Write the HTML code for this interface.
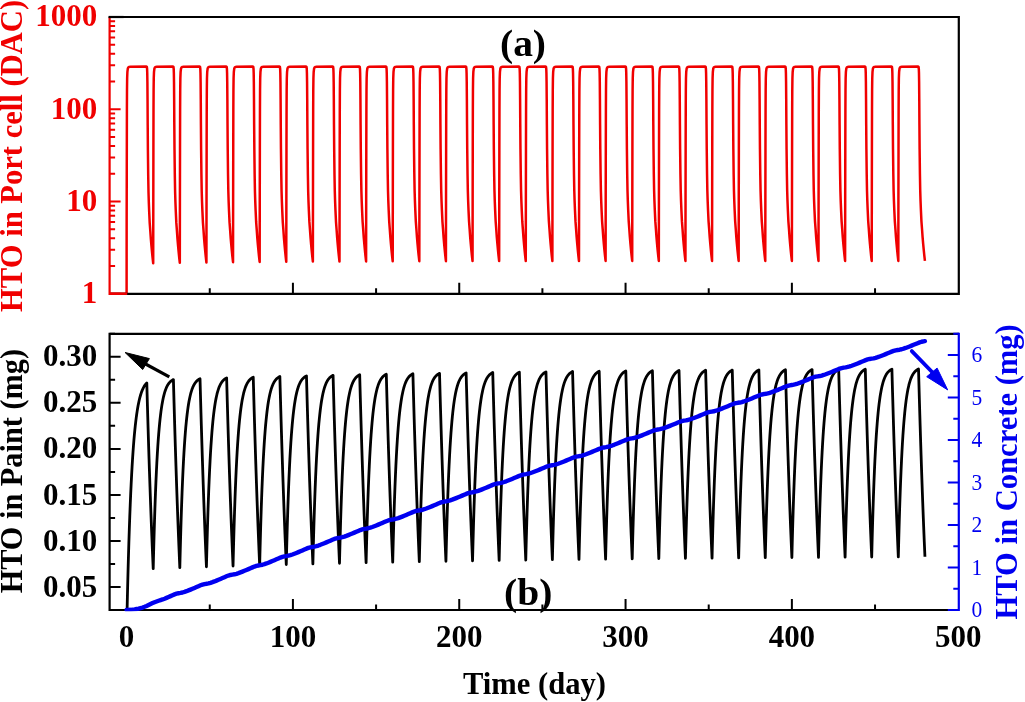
<!DOCTYPE html>
<html><head><meta charset="utf-8"><title>HTO plot</title><style>html,body{margin:0;padding:0;background:#fff;}svg{display:block}text{font-family:"Liberation Serif","Times New Roman",serif;}</style></head><body>
<svg width="1025" height="702" viewBox="0 0 1025 702">
<rect width="1025" height="702" fill="#fff"/>
<defs><clipPath id="ca"><rect x="109.6" y="17.0" width="849.1999999999999" height="276.8"/></clipPath><clipPath id="cb"><rect x="109.6" y="333.8" width="849.1999999999999" height="276.2"/></clipPath><clipPath id="cb2"><rect x="109.6" y="333.8" width="849.1999999999999" height="277.4"/></clipPath></defs>
<path d="M109.6,293.8 L126.3,293.8 L126.6,293.8 L126.65,220 L126.9,110 L127,90 L127.15,78 L127.4,71.8 L127.8,68.6 L128.4,67.3 L129.2,66.9 L130.1,66.8 L146.3,66.5 L146.85,67 L147.1,69 L147.25,73 L147.4,82 L147.55,100 L147.7,125 L147.9,150 L148.2,175 L148.5,192 L148.8,202 L149.2,212 L149.7,223 L150.3,231 L150.85,239 L151.45,246 L152,252 L152.6,258 L153.2,263.3 L153.21,263.3 L153.31,200 L153.41,150 L153.51,110 L153.61,90 L153.76,78 L154.01,71.8 L154.41,68.6 L155.01,67.3 L155.81,66.9 L156.71,66.8 L172.91,66.5 L173.46,67 L173.71,68.99 L173.86,72.99 L174.01,81.97 L174.16,99.93 L174.31,124.87 L174.51,149.82 L174.81,174.76 L175.11,191.72 L175.41,201.7 L175.81,211.68 L176.31,222.65 L176.91,230.64 L177.46,238.62 L178.06,245.6 L178.61,251.59 L179.21,257.58 L179.81,262.86 L179.82,262.86 L179.92,200 L180.02,150 L180.12,110 L180.22,90 L180.37,78 L180.62,71.8 L181.02,68.6 L181.62,67.3 L182.42,66.9 L183.32,66.8 L199.52,66.5 L200.07,67 L200.32,68.99 L200.47,72.97 L200.62,81.94 L200.77,99.87 L200.92,124.76 L201.12,149.66 L201.42,174.56 L201.72,191.5 L202.02,201.46 L202.42,211.42 L202.92,222.37 L203.52,230.34 L204.07,238.31 L204.67,245.28 L205.22,251.25 L205.82,257.23 L206.42,262.51 L206.43,262.51 L206.53,200 L206.63,150 L206.73,110 L206.83,90 L206.98,78 L207.23,71.8 L207.63,68.6 L208.23,67.3 L209.03,66.9 L209.93,66.8 L226.13,66.5 L226.68,67 L226.93,68.99 L227.08,72.96 L227.23,81.91 L227.38,99.82 L227.53,124.68 L227.73,149.54 L228.03,174.4 L228.33,191.31 L228.63,201.25 L229.03,211.2 L229.53,222.14 L230.13,230.09 L230.68,238.05 L231.28,245.01 L231.83,250.98 L232.43,256.95 L233.03,262.22 L233.04,262.22 L233.14,200 L233.24,150 L233.34,110 L233.44,90 L233.59,78 L233.84,71.8 L234.24,68.6 L234.84,67.3 L235.64,66.9 L236.54,66.8 L252.74,66.5 L253.29,67 L253.54,68.98 L253.69,72.96 L253.84,81.9 L253.99,99.78 L254.14,124.61 L254.34,149.44 L254.64,174.27 L254.94,191.16 L255.24,201.09 L255.64,211.02 L256.14,221.95 L256.74,229.9 L257.29,237.84 L257.89,244.79 L258.44,250.75 L259.04,256.71 L259.64,261.98 L259.66,261.98 L259.76,200 L259.86,150 L259.96,110 L260.06,90 L260.21,78 L260.46,71.8 L260.86,68.6 L261.46,67.3 L262.26,66.9 L263.16,66.8 L279.36,66.5 L279.91,67 L280.16,68.98 L280.31,72.95 L280.46,81.88 L280.61,99.74 L280.76,124.55 L280.96,149.36 L281.26,174.16 L281.56,191.03 L281.86,200.96 L282.26,210.88 L282.76,221.79 L283.36,229.73 L283.91,237.67 L284.51,244.62 L285.06,250.57 L285.66,256.52 L286.26,261.78 L286.27,261.78 L286.37,200 L286.47,150 L286.57,110 L286.67,90 L286.82,78 L287.07,71.8 L287.47,68.6 L288.07,67.3 L288.87,66.9 L289.77,66.8 L305.97,66.5 L306.52,67 L306.77,68.98 L306.92,72.94 L307.07,81.87 L307.22,99.71 L307.37,124.5 L307.57,149.29 L307.87,174.08 L308.17,190.93 L308.47,200.85 L308.87,210.76 L309.37,221.67 L309.97,229.6 L310.52,237.53 L311.12,244.47 L311.67,250.42 L312.27,256.37 L312.87,261.62 L312.88,261.62 L312.98,200 L313.08,150 L313.18,110 L313.28,90 L313.43,78 L313.68,71.8 L314.08,68.6 L314.68,67.3 L315.48,66.9 L316.38,66.8 L332.58,66.5 L333.13,67 L333.38,68.98 L333.53,72.94 L333.68,81.86 L333.83,99.69 L333.98,124.46 L334.18,149.23 L334.48,174 L334.78,190.85 L335.08,200.76 L335.48,210.66 L335.98,221.56 L336.58,229.49 L337.13,237.42 L337.73,244.35 L338.28,250.3 L338.88,256.24 L339.48,261.49 L339.49,261.49 L339.59,200 L339.69,150 L339.79,110 L339.89,90 L340.04,78 L340.29,71.8 L340.69,68.6 L341.29,67.3 L342.09,66.9 L342.99,66.8 L359.19,66.5 L359.74,67 L359.99,68.98 L360.14,72.94 L360.29,81.85 L360.44,99.67 L360.59,124.43 L360.79,149.19 L361.09,173.94 L361.39,190.78 L361.69,200.68 L362.09,210.58 L362.59,221.48 L363.19,229.4 L363.74,237.32 L364.34,244.25 L364.89,250.19 L365.49,256.14 L366.09,261.38 L366.1,261.38 L366.2,200 L366.3,150 L366.4,110 L366.5,90 L366.65,78 L366.9,71.8 L367.3,68.6 L367.9,67.3 L368.7,66.9 L369.6,66.8 L385.8,66.5 L386.35,66.99 L386.6,68.97 L386.75,72.93 L386.9,81.84 L387.05,99.66 L387.2,124.4 L387.4,149.15 L387.7,173.9 L388,190.72 L388.3,200.62 L388.7,210.52 L389.2,221.41 L389.8,229.33 L390.35,237.24 L390.95,244.17 L391.5,250.11 L392.1,256.05 L392.7,261.3 L392.71,261.3 L392.81,200 L392.91,150 L393.01,110 L393.11,90 L393.26,78 L393.51,71.8 L393.91,68.6 L394.51,67.3 L395.31,66.9 L396.21,66.8 L412.41,66.5 L412.96,66.99 L413.21,68.97 L413.36,72.93 L413.51,81.84 L413.66,99.65 L413.81,124.38 L414.01,149.12 L414.31,173.86 L414.61,190.68 L414.91,200.57 L415.31,210.47 L415.81,221.35 L416.41,229.27 L416.96,237.18 L417.56,244.11 L418.11,250.04 L418.71,255.98 L419.31,261.22 L419.32,261.22 L419.42,200 L419.52,150 L419.62,110 L419.72,90 L419.87,78 L420.12,71.8 L420.52,68.6 L421.12,67.3 L421.92,66.9 L422.82,66.8 L439.02,66.5 L439.57,66.99 L439.82,68.97 L439.97,72.93 L440.12,81.83 L440.27,99.64 L440.42,124.37 L440.62,149.09 L440.92,173.82 L441.22,190.64 L441.52,200.53 L441.92,210.42 L442.42,221.3 L443.02,229.22 L443.57,237.13 L444.17,244.05 L444.72,249.99 L445.32,255.92 L445.92,261.17 L445.93,261.17 L446.03,200 L446.13,150 L446.23,110 L446.33,90 L446.48,78 L446.73,71.8 L447.13,68.6 L447.73,67.3 L448.53,66.9 L449.43,66.8 L465.63,66.5 L466.18,66.99 L466.43,68.97 L466.58,72.93 L466.73,81.83 L466.88,99.63 L467.03,124.35 L467.23,149.07 L467.53,173.8 L467.83,190.61 L468.13,200.5 L468.53,210.39 L469.03,221.26 L469.63,229.18 L470.18,237.09 L470.78,244.01 L471.33,249.94 L471.93,255.88 L472.53,261.12 L472.55,261.12 L472.65,200 L472.75,150 L472.85,110 L472.95,90 L473.1,78 L473.35,71.8 L473.75,68.6 L474.35,67.3 L475.15,66.9 L476.05,66.8 L492.25,66.5 L492.8,66.99 L493.05,68.97 L493.2,72.93 L493.35,81.83 L493.5,99.62 L493.65,124.34 L493.85,149.06 L494.15,173.78 L494.45,190.58 L494.75,200.47 L495.15,210.36 L495.65,221.23 L496.25,229.14 L496.8,237.05 L497.4,243.97 L497.95,249.91 L498.55,255.84 L499.15,261.08 L499.16,261.08 L499.26,200 L499.36,150 L499.46,110 L499.56,90 L499.71,78 L499.96,71.8 L500.36,68.6 L500.96,67.3 L501.76,66.9 L502.66,66.8 L518.86,66.5 L519.41,66.99 L519.66,68.97 L519.81,72.93 L519.96,81.82 L520.11,99.62 L520.26,124.33 L520.46,149.04 L520.76,173.76 L521.06,190.56 L521.36,200.45 L521.76,210.33 L522.26,221.21 L522.86,229.12 L523.41,237.02 L524.01,243.94 L524.56,249.88 L525.16,255.81 L525.76,261.05 L525.77,261.05 L525.87,200 L525.97,150 L526.07,110 L526.17,90 L526.32,78 L526.57,71.8 L526.97,68.6 L527.57,67.3 L528.37,66.9 L529.27,66.8 L545.47,66.5 L546.02,66.99 L546.27,68.97 L546.42,72.92 L546.57,81.82 L546.72,99.61 L546.87,124.32 L547.07,149.03 L547.37,173.74 L547.67,190.55 L547.97,200.43 L548.37,210.31 L548.87,221.19 L549.47,229.09 L550.02,237 L550.62,243.92 L551.17,249.85 L551.77,255.78 L552.37,261.02 L552.38,261.02 L552.48,200 L552.58,150 L552.68,110 L552.78,90 L552.93,78 L553.18,71.8 L553.58,68.6 L554.18,67.3 L554.98,66.9 L555.88,66.8 L572.08,66.5 L572.63,66.99 L572.88,68.97 L573.03,72.92 L573.18,81.82 L573.33,99.61 L573.48,124.32 L573.68,149.02 L573.98,173.73 L574.28,190.53 L574.58,200.41 L574.98,210.3 L575.48,221.17 L576.08,229.08 L576.63,236.98 L577.23,243.9 L577.78,249.83 L578.38,255.76 L578.98,261 L578.99,261 L579.09,200 L579.19,150 L579.29,110 L579.39,90 L579.54,78 L579.79,71.8 L580.19,68.6 L580.79,67.3 L581.59,66.9 L582.49,66.8 L598.69,66.5 L599.24,66.99 L599.49,68.97 L599.64,72.92 L599.79,81.82 L599.94,99.61 L600.09,124.31 L600.29,149.02 L600.59,173.72 L600.89,190.52 L601.19,200.4 L601.59,210.28 L602.09,221.16 L602.69,229.06 L603.24,236.97 L603.84,243.88 L604.39,249.81 L604.99,255.74 L605.59,260.98 L605.6,260.98 L605.7,200 L605.8,150 L605.9,110 L606,90 L606.15,78 L606.4,71.8 L606.8,68.6 L607.4,67.3 L608.2,66.9 L609.1,66.8 L625.3,66.5 L625.85,66.99 L626.1,68.97 L626.25,72.92 L626.4,81.82 L626.55,99.6 L626.7,124.31 L626.9,149.01 L627.2,173.71 L627.5,190.51 L627.8,200.39 L628.2,210.27 L628.7,221.14 L629.3,229.05 L629.85,236.95 L630.45,243.87 L631,249.8 L631.6,255.73 L632.2,260.97 L632.21,260.97 L632.31,200 L632.41,150 L632.51,110 L632.61,90 L632.76,78 L633.01,71.8 L633.41,68.6 L634.01,67.3 L634.81,66.9 L635.71,66.8 L651.91,66.5 L652.46,66.99 L652.71,68.97 L652.86,72.92 L653.01,81.82 L653.16,99.6 L653.31,124.3 L653.51,149 L653.81,173.71 L654.11,190.5 L654.41,200.38 L654.81,210.27 L655.31,221.13 L655.91,229.04 L656.46,236.94 L657.06,243.86 L657.61,249.79 L658.21,255.72 L658.81,260.95 L658.82,260.95 L658.92,200 L659.02,150 L659.12,110 L659.22,90 L659.37,78 L659.62,71.8 L660.02,68.6 L660.62,67.3 L661.42,66.9 L662.32,66.8 L678.52,66.5 L679.07,66.99 L679.32,68.97 L679.47,72.92 L679.62,81.81 L679.77,99.6 L679.92,124.3 L680.12,149 L680.42,173.7 L680.72,190.5 L681.02,200.38 L681.42,210.26 L681.92,221.13 L682.52,229.03 L683.07,236.93 L683.67,243.85 L684.22,249.78 L684.82,255.71 L685.42,260.94 L685.44,260.94 L685.54,200 L685.64,150 L685.74,110 L685.84,90 L685.99,78 L686.24,71.8 L686.64,68.6 L687.24,67.3 L688.04,66.9 L688.94,66.8 L705.14,66.5 L705.69,66.99 L705.94,68.97 L706.09,72.92 L706.24,81.81 L706.39,99.6 L706.54,124.3 L706.74,149 L707.04,173.7 L707.34,190.49 L707.64,200.37 L708.04,210.25 L708.54,221.12 L709.14,229.02 L709.69,236.93 L710.29,243.84 L710.84,249.77 L711.44,255.7 L712.04,260.94 L712.05,260.94 L712.15,200 L712.25,150 L712.35,110 L712.45,90 L712.6,78 L712.85,71.8 L713.25,68.6 L713.85,67.3 L714.65,66.9 L715.55,66.8 L731.75,66.5 L732.3,66.99 L732.55,68.97 L732.7,72.92 L732.85,81.81 L733,99.6 L733.15,124.3 L733.35,148.99 L733.65,173.69 L733.95,190.49 L734.25,200.37 L734.65,210.25 L735.15,221.11 L735.75,229.02 L736.3,236.92 L736.9,243.84 L737.45,249.77 L738.05,255.69 L738.65,260.93 L738.66,260.93 L738.76,200 L738.86,150 L738.96,110 L739.06,90 L739.21,78 L739.46,71.8 L739.86,68.6 L740.46,67.3 L741.26,66.9 L742.16,66.8 L758.36,66.5 L758.91,66.99 L759.16,68.97 L759.31,72.92 L759.46,81.81 L759.61,99.6 L759.76,124.29 L759.96,148.99 L760.26,173.69 L760.56,190.48 L760.86,200.36 L761.26,210.24 L761.76,221.11 L762.36,229.01 L762.91,236.92 L763.51,243.83 L764.06,249.76 L764.66,255.69 L765.26,260.92 L765.27,260.92 L765.37,200 L765.47,150 L765.57,110 L765.67,90 L765.82,78 L766.07,71.8 L766.47,68.6 L767.07,67.3 L767.87,66.9 L768.77,66.8 L784.97,66.5 L785.52,66.99 L785.77,68.97 L785.92,72.92 L786.07,81.81 L786.22,99.59 L786.37,124.29 L786.57,148.99 L786.87,173.69 L787.17,190.48 L787.47,200.36 L787.87,210.24 L788.37,221.11 L788.97,229.01 L789.52,236.91 L790.12,243.83 L790.67,249.76 L791.27,255.68 L791.87,260.92 L791.88,260.92 L791.98,200 L792.08,150 L792.18,110 L792.28,90 L792.43,78 L792.68,71.8 L793.08,68.6 L793.68,67.3 L794.48,66.9 L795.38,66.8 L811.58,66.5 L812.13,66.99 L812.38,68.97 L812.53,72.92 L812.68,81.81 L812.83,99.59 L812.98,124.29 L813.18,148.99 L813.48,173.69 L813.78,190.48 L814.08,200.36 L814.48,210.24 L814.98,221.1 L815.58,229.01 L816.13,236.91 L816.73,243.83 L817.28,249.75 L817.88,255.68 L818.48,260.92 L818.49,260.92 L818.59,200 L818.69,150 L818.79,110 L818.89,90 L819.04,78 L819.29,71.8 L819.69,68.6 L820.29,67.3 L821.09,66.9 L821.99,66.8 L838.19,66.5 L838.74,66.99 L838.99,68.97 L839.14,72.92 L839.29,81.81 L839.44,99.59 L839.59,124.29 L839.79,148.99 L840.09,173.68 L840.39,190.48 L840.69,200.36 L841.09,210.24 L841.59,221.1 L842.19,229 L842.74,236.91 L843.34,243.82 L843.89,249.75 L844.49,255.68 L845.09,260.91 L845.1,260.91 L845.2,200 L845.3,150 L845.4,110 L845.5,90 L845.65,78 L845.9,71.8 L846.3,68.6 L846.9,67.3 L847.7,66.9 L848.6,66.8 L864.8,66.5 L865.35,66.99 L865.6,68.97 L865.75,72.92 L865.9,81.81 L866.05,99.59 L866.2,124.29 L866.4,148.99 L866.7,173.68 L867,190.48 L867.3,200.36 L867.7,210.23 L868.2,221.1 L868.8,229 L869.35,236.91 L869.95,243.82 L870.5,249.75 L871.1,255.68 L871.7,260.91 L871.71,260.91 L871.81,200 L871.91,150 L872.01,110 L872.11,90 L872.26,78 L872.51,71.8 L872.91,68.6 L873.51,67.3 L874.31,66.9 L875.21,66.8 L891.41,66.5 L891.96,66.99 L892.21,68.97 L892.36,72.92 L892.51,81.81 L892.66,99.59 L892.81,124.29 L893.01,148.99 L893.31,173.68 L893.61,190.48 L893.91,200.35 L894.31,210.23 L894.81,221.1 L895.41,229 L895.96,236.9 L896.56,243.82 L897.11,249.75 L897.71,255.67 L898.31,260.91 L898.32,260.91 L898.42,200 L898.52,150 L898.62,110 L898.72,90 L898.87,78 L899.12,71.8 L899.52,68.6 L900.12,67.3 L900.92,66.9 L901.82,66.8 L918.02,66.5 L918.57,66.99 L918.82,68.97 L918.97,72.92 L919.12,81.81 L919.27,99.59 L919.42,124.29 L919.62,148.98 L919.92,173.68 L920.22,190.47 L920.52,200.35 L920.92,210.23 L921.42,221.1 L922.02,229 L922.57,236.9 L923.17,243.82 L923.72,249.74 L924.32,255.67 L924.92,260.91" fill="none" stroke="#f00000" stroke-width="2.5" stroke-linejoin="round" clip-path="url(#ca)"/>
<path d="M126.6,633.02 L126.85,621.03 L127.1,609.61 L127.35,598.72 L127.6,588.34 L127.85,578.45 L128.1,569.03 L128.35,560.04 L128.6,551.48 L128.85,543.32 L129.31,529.29 L129.77,516.44 L130.23,504.69 L130.69,493.93 L131.15,484.08 L131.61,475.06 L132.07,466.81 L132.53,459.26 L132.99,452.35 L133.45,446.02 L133.91,440.23 L134.37,434.93 L134.83,430.07 L135.29,425.63 L135.75,421.57 L136.21,417.85 L136.67,414.44 L137.13,411.33 L137.59,408.47 L138.06,405.86 L138.52,403.47 L138.98,401.29 L139.44,399.28 L139.9,397.45 L140.36,395.77 L140.82,394.24 L141.28,392.83 L141.74,391.55 L142.2,390.37 L142.66,389.29 L143.12,388.31 L143.58,387.4 L144.04,386.58 L144.5,385.82 L144.96,385.13 L145.42,384.5 L145.88,383.92 L146.34,383.39 L146.8,382.9 L147.12,394.55 L147.44,405.92 L147.76,417 L148.08,427.81 L148.4,438.36 L148.72,448.64 L149.04,458.67 L149.36,468.45 L149.69,477.99 L150.01,487.3 L150.33,496.37 L150.65,505.22 L150.97,513.85 L151.29,522.27 L151.61,530.49 L151.93,538.49 L152.25,546.31 L152.57,553.92 L152.89,561.35 L153.21,568.6 L153.21,568.6 L153.46,558.27 L153.71,548.5 L153.96,539.26 L154.21,530.51 L154.46,522.24 L154.71,514.42 L154.96,507.01 L155.21,500.01 L155.46,493.39 L155.92,482.12 L156.38,471.94 L156.84,462.76 L157.3,454.46 L157.76,446.98 L158.22,440.22 L158.68,434.11 L159.14,428.61 L159.6,423.63 L160.06,419.14 L160.52,415.09 L160.98,411.43 L161.44,408.13 L161.9,405.14 L162.37,402.45 L162.83,400.02 L163.29,397.83 L163.75,395.85 L164.21,394.06 L164.67,392.44 L165.13,390.99 L165.59,389.67 L166.05,388.48 L166.51,387.41 L166.97,386.44 L167.43,385.57 L167.89,384.78 L168.35,384.07 L168.81,383.42 L169.27,382.84 L169.73,382.32 L170.19,381.85 L170.65,381.42 L171.11,381.03 L171.57,380.69 L172.03,380.37 L172.49,380.09 L172.95,379.83 L173.41,379.6 L173.73,391.4 L174.05,402.91 L174.37,414.14 L174.69,425.09 L175.01,435.76 L175.33,446.18 L175.66,456.34 L175.98,466.24 L176.3,475.9 L176.62,485.33 L176.94,494.52 L177.26,503.48 L177.58,512.23 L177.9,520.75 L178.22,529.07 L178.54,537.18 L178.86,545.09 L179.18,552.81 L179.5,560.33 L179.82,567.67 L179.82,567.67 L180.07,557.34 L180.32,547.58 L180.57,538.34 L180.82,529.6 L181.07,521.33 L181.32,513.51 L181.57,506.11 L181.82,499.11 L182.07,492.49 L182.53,481.23 L182.99,471.06 L183.45,461.88 L183.91,453.59 L184.37,446.1 L184.83,439.35 L185.29,433.25 L185.75,427.74 L186.21,422.77 L186.67,418.28 L187.14,414.23 L187.6,410.57 L188.06,407.27 L188.52,404.29 L188.98,401.6 L189.44,399.17 L189.9,396.98 L190.36,395 L190.82,393.21 L191.28,391.6 L191.74,390.14 L192.2,388.82 L192.66,387.64 L193.12,386.57 L193.58,385.6 L194.04,384.72 L194.5,383.94 L194.96,383.22 L195.42,382.58 L195.88,382 L196.34,381.48 L196.8,381 L197.26,380.58 L197.72,380.19 L198.18,379.84 L198.64,379.53 L199.1,379.25 L199.56,378.99 L200.02,378.76 L200.34,390.56 L200.66,402.07 L200.98,413.29 L201.3,424.24 L201.63,434.92 L201.95,445.33 L202.27,455.48 L202.59,465.39 L202.91,475.05 L203.23,484.47 L203.55,493.66 L203.87,502.63 L204.19,511.37 L204.51,519.89 L204.83,528.21 L205.15,536.32 L205.47,544.23 L205.79,551.94 L206.11,559.46 L206.43,566.8 L206.43,566.8 L206.68,556.48 L206.93,546.72 L207.18,537.49 L207.43,528.75 L207.68,520.49 L207.93,512.67 L208.18,505.27 L208.43,498.28 L208.68,491.66 L209.14,480.4 L209.6,470.23 L210.06,461.06 L210.52,452.77 L210.98,445.29 L211.45,438.54 L211.91,432.44 L212.37,426.94 L212.83,421.97 L213.29,417.48 L213.75,413.43 L214.21,409.78 L214.67,406.48 L215.13,403.5 L215.59,400.81 L216.05,398.38 L216.51,396.19 L216.97,394.21 L217.43,392.42 L217.89,390.81 L218.35,389.35 L218.81,388.04 L219.27,386.85 L219.73,385.78 L220.19,384.81 L220.65,383.94 L221.11,383.15 L221.57,382.44 L222.03,381.8 L222.49,381.22 L222.95,380.69 L223.41,380.22 L223.87,379.79 L224.33,379.41 L224.79,379.06 L225.25,378.75 L225.71,378.46 L226.17,378.21 L226.63,377.98 L226.95,389.77 L227.27,401.28 L227.6,412.5 L227.92,423.45 L228.24,434.13 L228.56,444.54 L228.88,454.69 L229.2,464.6 L229.52,474.26 L229.84,483.68 L230.16,492.86 L230.48,501.83 L230.8,510.57 L231.12,519.09 L231.44,527.41 L231.76,535.51 L232.08,543.42 L232.4,551.14 L232.72,558.66 L233.04,566 L233.04,566 L233.29,555.68 L233.54,545.92 L233.79,536.69 L234.04,527.96 L234.29,519.7 L234.54,511.88 L234.79,504.49 L235.04,497.5 L235.29,490.89 L235.76,479.63 L236.22,469.47 L236.68,460.29 L237.14,452.01 L237.6,444.53 L238.06,437.78 L238.52,431.69 L238.98,426.19 L239.44,421.22 L239.9,416.74 L240.36,412.69 L240.82,409.03 L241.28,405.74 L241.74,402.76 L242.2,400.07 L242.66,397.64 L243.12,395.45 L243.58,393.47 L244.04,391.69 L244.5,390.07 L244.96,388.62 L245.42,387.3 L245.88,386.12 L246.34,385.05 L246.8,384.08 L247.26,383.21 L247.72,382.42 L248.18,381.71 L248.64,381.07 L249.1,380.49 L249.56,379.96 L250.02,379.49 L250.48,379.06 L250.94,378.68 L251.4,378.33 L251.86,378.02 L252.32,377.73 L252.78,377.48 L253.24,377.25 L253.57,389.04 L253.89,400.55 L254.21,411.77 L254.53,422.72 L254.85,433.39 L255.17,443.8 L255.49,453.95 L255.81,463.86 L256.13,473.51 L256.45,482.93 L256.77,492.12 L257.09,501.08 L257.41,509.82 L257.73,518.35 L258.05,526.66 L258.37,534.77 L258.69,542.67 L259.01,550.39 L259.34,557.91 L259.66,565.24 L259.66,565.24 L259.91,554.93 L260.16,545.18 L260.41,535.95 L260.66,527.22 L260.91,518.96 L261.16,511.15 L261.41,503.76 L261.66,496.77 L261.91,490.16 L262.37,478.91 L262.83,468.75 L263.29,459.58 L263.75,451.3 L264.21,443.83 L264.67,437.08 L265.13,430.99 L265.59,425.49 L266.05,420.52 L266.51,416.04 L266.97,412 L267.43,408.34 L267.89,405.05 L268.35,402.07 L268.81,399.38 L269.27,396.95 L269.73,394.76 L270.19,392.79 L270.65,391 L271.11,389.39 L271.57,387.94 L272.03,386.62 L272.49,385.44 L272.95,384.37 L273.41,383.4 L273.87,382.53 L274.33,381.74 L274.79,381.03 L275.25,380.39 L275.71,379.81 L276.17,379.28 L276.63,378.81 L277.09,378.38 L277.55,378 L278.01,377.65 L278.48,377.34 L278.94,377.05 L279.4,376.8 L279.86,376.57 L280.18,388.36 L280.5,399.87 L280.82,411.09 L281.14,422.03 L281.46,432.7 L281.78,443.11 L282.1,453.27 L282.42,463.17 L282.74,472.83 L283.06,482.24 L283.38,491.43 L283.7,500.39 L284.02,509.13 L284.34,517.65 L284.66,525.96 L284.98,534.07 L285.31,541.98 L285.63,549.69 L285.95,557.21 L286.27,564.55 L286.27,564.55 L286.52,554.24 L286.77,544.49 L287.02,535.26 L287.27,526.54 L287.52,518.28 L287.77,510.47 L288.02,503.09 L288.27,496.1 L288.52,489.49 L288.98,478.24 L289.44,468.09 L289.9,458.92 L290.36,450.64 L290.82,443.17 L291.28,436.43 L291.74,430.34 L292.2,424.84 L292.66,419.88 L293.12,415.4 L293.58,411.35 L294.04,407.7 L294.5,404.4 L294.96,401.43 L295.42,398.74 L295.88,396.32 L296.34,394.13 L296.8,392.15 L297.26,390.36 L297.72,388.75 L298.18,387.3 L298.64,385.99 L299.1,384.8 L299.56,383.73 L300.02,382.76 L300.48,381.89 L300.94,381.1 L301.4,380.39 L301.86,379.75 L302.32,379.17 L302.79,378.65 L303.25,378.18 L303.71,377.75 L304.17,377.37 L304.63,377.02 L305.09,376.71 L305.55,376.42 L306.01,376.17 L306.47,375.94 L306.79,387.73 L307.11,399.23 L307.43,410.45 L307.75,421.39 L308.07,432.07 L308.39,442.48 L308.71,452.63 L309.03,462.53 L309.35,472.18 L309.67,481.6 L309.99,490.79 L310.31,499.75 L310.63,508.48 L310.96,517.01 L311.28,525.32 L311.6,533.42 L311.92,541.33 L312.24,549.04 L312.56,556.56 L312.88,563.89 L312.88,563.89 L313.13,553.59 L313.38,543.84 L313.63,534.62 L313.88,525.9 L314.13,517.65 L314.38,509.84 L314.63,502.46 L314.88,495.47 L315.13,488.86 L315.59,477.62 L316.05,467.47 L316.51,458.3 L316.97,450.03 L317.43,442.56 L317.89,435.82 L318.35,429.73 L318.81,424.24 L319.27,419.27 L319.73,414.8 L320.19,410.75 L320.65,407.1 L321.11,403.81 L321.57,400.83 L322.03,398.15 L322.49,395.72 L322.95,393.53 L323.41,391.56 L323.87,389.77 L324.33,388.16 L324.79,386.71 L325.25,385.39 L325.71,384.21 L326.17,383.14 L326.63,382.17 L327.1,381.3 L327.56,380.51 L328.02,379.8 L328.48,379.16 L328.94,378.58 L329.4,378.06 L329.86,377.59 L330.32,377.16 L330.78,376.78 L331.24,376.43 L331.7,376.12 L332.16,375.83 L332.62,375.58 L333.08,375.35 L333.4,387.14 L333.72,398.64 L334.04,409.86 L334.36,420.8 L334.68,431.47 L335,441.88 L335.32,452.03 L335.64,461.93 L335.96,471.59 L336.28,481 L336.6,490.19 L336.93,499.15 L337.25,507.88 L337.57,516.4 L337.89,524.71 L338.21,532.82 L338.53,540.72 L338.85,548.43 L339.17,555.95 L339.49,563.29 L339.49,563.29 L339.74,552.99 L339.99,543.24 L340.24,534.02 L340.49,525.3 L340.74,517.05 L340.99,509.25 L341.24,501.87 L341.49,494.89 L341.74,488.28 L342.2,477.04 L342.66,466.89 L343.12,457.73 L343.58,449.46 L344.04,441.99 L344.5,435.25 L344.96,429.17 L345.42,423.67 L345.88,418.71 L346.34,414.24 L346.8,410.19 L347.26,406.54 L347.72,403.25 L348.18,400.28 L348.64,397.59 L349.1,395.17 L349.56,392.98 L350.02,391 L350.48,389.22 L350.94,387.61 L351.4,386.16 L351.87,384.84 L352.33,383.66 L352.79,382.59 L353.25,381.62 L353.71,380.75 L354.17,379.97 L354.63,379.25 L355.09,378.61 L355.55,378.03 L356.01,377.51 L356.47,377.04 L356.93,376.61 L357.39,376.23 L357.85,375.88 L358.31,375.57 L358.77,375.29 L359.23,375.03 L359.69,374.8 L360.01,386.59 L360.33,398.09 L360.65,409.31 L360.97,420.25 L361.29,430.92 L361.61,441.33 L361.93,451.48 L362.25,461.38 L362.57,471.03 L362.9,480.45 L363.22,489.63 L363.54,498.59 L363.86,507.32 L364.18,515.84 L364.5,524.15 L364.82,532.26 L365.14,540.16 L365.46,547.87 L365.78,555.39 L366.1,562.72 L366.1,562.72 L366.35,552.42 L366.6,542.68 L366.85,533.47 L367.1,524.75 L367.35,516.5 L367.6,508.7 L367.85,501.32 L368.1,494.34 L368.35,487.74 L368.81,476.5 L369.27,466.36 L369.73,457.2 L370.19,448.93 L370.65,441.46 L371.11,434.72 L371.57,428.64 L372.03,423.15 L372.49,418.19 L372.95,413.71 L373.41,409.67 L373.87,406.02 L374.33,402.73 L374.79,399.76 L375.25,397.07 L375.71,394.65 L376.18,392.46 L376.64,390.49 L377.1,388.7 L377.56,387.1 L378.02,385.64 L378.48,384.33 L378.94,383.15 L379.4,382.08 L379.86,381.11 L380.32,380.24 L380.78,379.45 L381.24,378.74 L381.7,378.1 L382.16,377.52 L382.62,377 L383.08,376.53 L383.54,376.1 L384,375.72 L384.46,375.37 L384.92,375.06 L385.38,374.78 L385.84,374.52 L386.3,374.29 L386.62,386.08 L386.94,397.58 L387.26,408.8 L387.58,419.74 L387.9,430.41 L388.22,440.81 L388.54,450.96 L388.87,460.86 L389.19,470.51 L389.51,479.93 L389.83,489.11 L390.15,498.07 L390.47,506.8 L390.79,515.32 L391.11,523.63 L391.43,531.73 L391.75,539.64 L392.07,547.35 L392.39,554.87 L392.71,562.2 L392.71,562.2 L392.96,551.9 L393.21,542.16 L393.46,532.95 L393.71,524.23 L393.96,515.99 L394.21,508.19 L394.46,500.81 L394.71,493.83 L394.96,487.23 L395.42,476 L395.88,465.86 L396.34,456.7 L396.8,448.43 L397.26,440.97 L397.72,434.23 L398.18,428.15 L398.64,422.66 L399.1,417.7 L399.56,413.23 L400.02,409.19 L400.49,405.54 L400.95,402.25 L401.41,399.28 L401.87,396.59 L402.33,394.17 L402.79,391.98 L403.25,390.01 L403.71,388.23 L404.17,386.62 L404.63,385.16 L405.09,383.85 L405.55,382.67 L406.01,381.6 L406.47,380.63 L406.93,379.76 L407.39,378.98 L407.85,378.27 L408.31,377.63 L408.77,377.05 L409.23,376.53 L409.69,376.05 L410.15,375.63 L410.61,375.24 L411.07,374.9 L411.53,374.58 L411.99,374.3 L412.45,374.05 L412.91,373.81 L413.23,385.6 L413.55,397.1 L413.87,408.32 L414.19,419.26 L414.51,429.93 L414.84,440.33 L415.16,450.48 L415.48,460.38 L415.8,470.03 L416.12,479.44 L416.44,488.63 L416.76,497.58 L417.08,506.32 L417.4,514.84 L417.72,523.14 L418.04,531.25 L418.36,539.15 L418.68,546.86 L419,554.38 L419.32,561.71 L419.32,561.71 L419.57,551.42 L419.82,541.68 L420.07,532.47 L420.32,523.75 L420.57,515.51 L420.82,507.71 L421.07,500.34 L421.32,493.36 L421.57,486.76 L422.03,475.53 L422.49,465.39 L422.95,456.24 L423.41,447.97 L423.87,440.51 L424.33,433.78 L424.79,427.7 L425.26,422.21 L425.72,417.25 L426.18,412.78 L426.64,408.74 L427.1,405.09 L427.56,401.8 L428.02,398.83 L428.48,396.14 L428.94,393.72 L429.4,391.54 L429.86,389.56 L430.32,387.78 L430.78,386.17 L431.24,384.72 L431.7,383.41 L432.16,382.22 L432.62,381.16 L433.08,380.19 L433.54,379.32 L434,378.53 L434.46,377.82 L434.92,377.18 L435.38,376.6 L435.84,376.08 L436.3,375.61 L436.76,375.19 L437.22,374.8 L437.68,374.45 L438.14,374.14 L438.6,373.86 L439.06,373.6 L439.52,373.37 L439.84,385.16 L440.16,396.66 L440.48,407.87 L440.81,418.81 L441.13,429.48 L441.45,439.88 L441.77,450.03 L442.09,459.93 L442.41,469.58 L442.73,478.99 L443.05,488.18 L443.37,497.13 L443.69,505.87 L444.01,514.38 L444.33,522.69 L444.65,530.79 L444.97,538.7 L445.29,546.4 L445.61,553.92 L445.93,561.25 L445.93,561.25 L446.18,550.96 L446.43,541.23 L446.68,532.02 L446.93,523.31 L447.18,515.07 L447.43,507.27 L447.68,499.9 L447.93,492.92 L448.18,486.32 L448.64,475.09 L449.1,464.96 L449.57,455.8 L450.03,447.54 L450.49,440.08 L450.95,433.35 L451.41,427.27 L451.87,421.78 L452.33,416.83 L452.79,412.36 L453.25,408.32 L453.71,404.67 L454.17,401.38 L454.63,398.41 L455.09,395.73 L455.55,393.31 L456.01,391.12 L456.47,389.15 L456.93,387.36 L457.39,385.76 L457.85,384.3 L458.31,382.99 L458.77,381.81 L459.23,380.74 L459.69,379.78 L460.15,378.91 L460.61,378.12 L461.07,377.41 L461.53,376.77 L461.99,376.19 L462.45,375.67 L462.91,375.2 L463.37,374.77 L463.83,374.39 L464.29,374.04 L464.75,373.73 L465.21,373.45 L465.67,373.19 L466.13,372.96 L466.45,384.75 L466.78,396.25 L467.1,407.46 L467.42,418.4 L467.74,429.06 L468.06,439.47 L468.38,449.61 L468.7,459.51 L469.02,469.16 L469.34,478.58 L469.66,487.76 L469.98,496.71 L470.3,505.44 L470.62,513.96 L470.94,522.27 L471.26,530.37 L471.58,538.27 L471.9,545.98 L472.23,553.5 L472.55,560.83 L472.55,560.83 L472.8,550.54 L473.05,540.81 L473.3,531.6 L473.55,522.89 L473.8,514.65 L474.05,506.86 L474.3,499.49 L474.55,492.51 L474.8,485.92 L475.26,474.69 L475.72,464.55 L476.18,455.4 L476.64,447.14 L477.1,439.69 L477.56,432.95 L478.02,426.88 L478.48,421.39 L478.94,416.44 L479.4,411.96 L479.86,407.93 L480.32,404.28 L480.78,400.99 L481.24,398.02 L481.7,395.34 L482.16,392.92 L482.62,390.73 L483.08,388.76 L483.54,386.98 L484,385.37 L484.46,383.92 L484.92,382.61 L485.38,381.43 L485.84,380.36 L486.3,379.39 L486.76,378.52 L487.22,377.74 L487.68,377.03 L488.14,376.39 L488.6,375.81 L489.06,375.29 L489.52,374.81 L489.98,374.39 L490.44,374.01 L490.9,373.66 L491.36,373.35 L491.83,373.06 L492.29,372.81 L492.75,372.58 L493.07,384.37 L493.39,395.86 L493.71,407.08 L494.03,418.01 L494.35,428.68 L494.67,439.08 L494.99,449.23 L495.31,459.12 L495.63,468.77 L495.95,478.19 L496.27,487.37 L496.59,496.32 L496.91,505.05 L497.23,513.57 L497.55,521.88 L497.87,529.98 L498.2,537.88 L498.52,545.59 L498.84,553.1 L499.16,560.43 L499.16,560.43 L499.41,550.15 L499.66,540.42 L499.91,531.21 L500.16,522.5 L500.41,514.27 L500.66,506.48 L500.91,499.1 L501.16,492.13 L501.41,485.54 L501.87,474.31 L502.33,464.18 L502.79,455.03 L503.25,446.77 L503.71,439.32 L504.17,432.58 L504.63,426.51 L505.09,421.02 L505.55,416.07 L506.01,411.6 L506.47,407.56 L506.93,403.92 L507.39,400.63 L507.85,397.66 L508.31,394.98 L508.77,392.56 L509.23,390.37 L509.69,388.4 L510.15,386.62 L510.61,385.01 L511.07,383.56 L511.53,382.25 L511.99,381.07 L512.45,380 L512.91,379.03 L513.37,378.16 L513.83,377.38 L514.29,376.67 L514.75,376.03 L515.21,375.45 L515.67,374.93 L516.14,374.46 L516.6,374.03 L517.06,373.65 L517.52,373.3 L517.98,372.99 L518.44,372.71 L518.9,372.45 L519.36,372.22 L519.68,384.01 L520,395.5 L520.32,406.72 L520.64,417.65 L520.96,428.32 L521.28,438.72 L521.6,448.87 L521.92,458.76 L522.24,468.41 L522.56,477.82 L522.88,487 L523.2,495.96 L523.52,504.69 L523.84,513.21 L524.17,521.51 L524.49,529.61 L524.81,537.51 L525.13,545.22 L525.45,552.74 L525.77,560.07 L525.77,560.07 L526.02,549.78 L526.27,540.05 L526.52,530.85 L526.77,522.14 L527.02,513.91 L527.27,506.12 L527.52,498.75 L527.77,491.78 L528.02,485.18 L528.48,473.96 L528.94,463.83 L529.4,454.68 L529.86,446.42 L530.32,438.97 L530.78,432.24 L531.24,426.17 L531.7,420.68 L532.16,415.73 L532.62,411.26 L533.08,407.22 L533.54,403.58 L534,400.29 L534.46,397.32 L534.92,394.64 L535.38,392.22 L535.84,390.04 L536.3,388.06 L536.76,386.28 L537.22,384.68 L537.68,383.23 L538.14,381.92 L538.6,380.73 L539.06,379.66 L539.52,378.7 L539.98,377.83 L540.44,377.04 L540.91,376.34 L541.37,375.7 L541.83,375.12 L542.29,374.6 L542.75,374.12 L543.21,373.7 L543.67,373.32 L544.13,372.97 L544.59,372.66 L545.05,372.37 L545.51,372.12 L545.97,371.89 L546.29,383.67 L546.61,395.17 L546.93,406.38 L547.25,417.32 L547.57,427.98 L547.89,438.38 L548.21,448.53 L548.53,458.42 L548.85,468.07 L549.17,477.49 L549.49,486.66 L549.81,495.62 L550.14,504.35 L550.46,512.87 L550.78,521.17 L551.1,529.27 L551.42,537.17 L551.74,544.88 L552.06,552.39 L552.38,559.72 L552.38,559.72 L552.63,549.44 L552.88,539.71 L553.13,530.51 L553.38,521.81 L553.63,513.57 L553.88,505.78 L554.13,498.42 L554.38,491.45 L554.63,484.85 L555.09,473.63 L555.55,463.5 L556.01,454.36 L556.47,446.1 L556.93,438.65 L557.39,431.92 L557.85,425.85 L558.31,420.36 L558.77,415.41 L559.23,410.94 L559.69,406.91 L560.15,403.26 L560.61,399.98 L561.07,397.01 L561.53,394.33 L561.99,391.91 L562.45,389.72 L562.91,387.75 L563.37,385.97 L563.83,384.36 L564.29,382.91 L564.75,381.6 L565.22,380.42 L565.68,379.35 L566.14,378.39 L566.6,377.52 L567.06,376.73 L567.52,376.03 L567.98,375.39 L568.44,374.81 L568.9,374.29 L569.36,373.81 L569.82,373.39 L570.28,373.01 L570.74,372.66 L571.2,372.35 L571.66,372.06 L572.12,371.81 L572.58,371.58 L572.9,383.36 L573.22,394.86 L573.54,406.07 L573.86,417.01 L574.18,427.67 L574.5,438.07 L574.82,448.22 L575.14,458.11 L575.46,467.76 L575.78,477.17 L576.11,486.35 L576.43,495.3 L576.75,504.03 L577.07,512.55 L577.39,520.85 L577.71,528.95 L578.03,536.86 L578.35,544.56 L578.67,552.08 L578.99,559.41 L578.99,559.41 L579.24,549.12 L579.49,539.4 L579.74,530.2 L579.99,521.5 L580.24,513.26 L580.49,505.47 L580.74,498.11 L580.99,491.14 L581.24,484.55 L581.7,473.33 L582.16,463.2 L582.62,454.06 L583.08,445.8 L583.54,438.35 L584,431.62 L584.46,425.55 L584.92,420.07 L585.38,415.12 L585.84,410.65 L586.3,406.61 L586.76,402.97 L587.22,399.68 L587.68,396.72 L588.14,394.04 L588.6,391.62 L589.06,389.43 L589.53,387.46 L589.99,385.68 L590.45,384.07 L590.91,382.62 L591.37,381.31 L591.83,380.13 L592.29,379.06 L592.75,378.1 L593.21,377.23 L593.67,376.45 L594.13,375.74 L594.59,375.1 L595.05,374.52 L595.51,374 L595.97,373.53 L596.43,373.1 L596.89,372.72 L597.35,372.37 L597.81,372.06 L598.27,371.78 L598.73,371.52 L599.19,371.29 L599.51,383.08 L599.83,394.57 L600.15,405.78 L600.47,416.72 L600.79,427.38 L601.11,437.78 L601.43,447.92 L601.75,457.82 L602.08,467.47 L602.4,476.88 L602.72,486.06 L603.04,495.01 L603.36,503.74 L603.68,512.25 L604,520.56 L604.32,528.66 L604.64,536.56 L604.96,544.26 L605.28,551.78 L605.6,559.11 L605.6,559.11 L605.85,548.83 L606.1,539.1 L606.35,529.91 L606.6,521.2 L606.85,512.97 L607.1,505.19 L607.35,497.82 L607.6,490.85 L607.85,484.26 L608.31,473.04 L608.77,462.92 L609.23,453.78 L609.69,445.52 L610.15,438.07 L610.61,431.35 L611.07,425.27 L611.53,419.79 L611.99,414.84 L612.45,410.37 L612.91,406.34 L613.37,402.7 L613.83,399.41 L614.3,396.44 L614.76,393.76 L615.22,391.35 L615.68,389.16 L616.14,387.19 L616.6,385.41 L617.06,383.8 L617.52,382.35 L617.98,381.04 L618.44,379.86 L618.9,378.8 L619.36,377.83 L619.82,376.96 L620.28,376.18 L620.74,375.47 L621.2,374.83 L621.66,374.25 L622.12,373.73 L622.58,373.26 L623.04,372.83 L623.5,372.45 L623.96,372.1 L624.42,371.79 L624.88,371.51 L625.34,371.25 L625.8,371.02 L626.12,382.81 L626.44,394.3 L626.76,405.51 L627.08,416.45 L627.4,427.11 L627.72,437.51 L628.05,447.65 L628.37,457.55 L628.69,467.19 L629.01,476.6 L629.33,485.78 L629.65,494.73 L629.97,503.46 L630.29,511.98 L630.61,520.28 L630.93,528.38 L631.25,536.28 L631.57,543.99 L631.89,551.5 L632.21,558.83 L632.21,558.83 L632.46,548.55 L632.71,538.83 L632.96,529.63 L633.21,520.93 L633.46,512.7 L633.71,504.92 L633.96,497.55 L634.21,490.59 L634.46,484 L634.92,472.78 L635.38,462.66 L635.84,453.51 L636.3,445.26 L636.76,437.81 L637.22,431.09 L637.68,425.02 L638.14,419.53 L638.61,414.59 L639.07,410.12 L639.53,406.09 L639.99,402.44 L640.45,399.16 L640.91,396.19 L641.37,393.51 L641.83,391.09 L642.29,388.91 L642.75,386.94 L643.21,385.16 L643.67,383.55 L644.13,382.1 L644.59,380.79 L645.05,379.61 L645.51,378.54 L645.97,377.58 L646.43,376.71 L646.89,375.93 L647.35,375.22 L647.81,374.58 L648.27,374 L648.73,373.48 L649.19,373.01 L649.65,372.58 L650.11,372.2 L650.57,371.85 L651.03,371.54 L651.49,371.26 L651.95,371 L652.41,370.77 L652.73,382.56 L653.05,394.05 L653.37,405.26 L653.7,416.19 L654.02,426.86 L654.34,437.26 L654.66,447.4 L654.98,457.29 L655.3,466.94 L655.62,476.35 L655.94,485.53 L656.26,494.48 L656.58,503.21 L656.9,511.72 L657.22,520.03 L657.54,528.13 L657.86,536.03 L658.18,543.73 L658.5,551.25 L658.82,558.57 L658.82,558.57 L659.07,548.3 L659.32,538.58 L659.57,529.38 L659.82,520.68 L660.07,512.45 L660.32,504.67 L660.57,497.3 L660.82,490.34 L661.07,483.75 L661.53,472.53 L661.99,462.41 L662.45,453.27 L662.92,445.02 L663.38,437.57 L663.84,430.85 L664.3,424.78 L664.76,419.3 L665.22,414.35 L665.68,409.88 L666.14,405.85 L666.6,402.21 L667.06,398.92 L667.52,395.95 L667.98,393.28 L668.44,390.86 L668.9,388.67 L669.36,386.7 L669.82,384.92 L670.28,383.32 L670.74,381.87 L671.2,380.56 L671.66,379.38 L672.12,378.31 L672.58,377.35 L673.04,376.48 L673.5,375.69 L673.96,374.98 L674.42,374.34 L674.88,373.77 L675.34,373.25 L675.8,372.77 L676.26,372.35 L676.72,371.97 L677.18,371.62 L677.64,371.31 L678.1,371.03 L678.56,370.77 L679.02,370.54 L679.34,382.32 L679.67,393.82 L679.99,405.03 L680.31,415.96 L680.63,426.62 L680.95,437.02 L681.27,447.16 L681.59,457.06 L681.91,466.7 L682.23,476.11 L682.55,485.29 L682.87,494.24 L683.19,502.97 L683.51,511.49 L683.83,519.79 L684.15,527.89 L684.47,535.79 L684.79,543.49 L685.11,551.01 L685.44,558.34 L685.44,558.34 L685.69,548.06 L685.94,538.34 L686.19,529.14 L686.44,520.45 L686.69,512.22 L686.94,504.43 L687.19,497.07 L687.44,490.11 L687.69,483.52 L688.15,472.31 L688.61,462.18 L689.07,453.04 L689.53,444.79 L689.99,437.35 L690.45,430.62 L690.91,424.55 L691.37,419.07 L691.83,414.13 L692.29,409.66 L692.75,405.63 L693.21,401.99 L693.67,398.7 L694.13,395.73 L694.59,393.06 L695.05,390.64 L695.51,388.46 L695.97,386.49 L696.43,384.71 L696.89,383.1 L697.35,381.65 L697.81,380.34 L698.27,379.16 L698.73,378.09 L699.19,377.13 L699.65,376.26 L700.11,375.48 L700.57,374.77 L701.03,374.13 L701.49,373.55 L701.95,373.03 L702.41,372.56 L702.87,372.13 L703.33,371.75 L703.79,371.4 L704.25,371.09 L704.71,370.81 L705.17,370.55 L705.64,370.32 L705.96,382.11 L706.28,393.6 L706.6,404.81 L706.92,415.74 L707.24,426.4 L707.56,436.8 L707.88,446.95 L708.2,456.84 L708.52,466.48 L708.84,475.89 L709.16,485.07 L709.48,494.02 L709.8,502.75 L710.12,511.27 L710.44,519.57 L710.76,527.67 L711.08,535.57 L711.41,543.27 L711.73,550.78 L712.05,558.11 L712.05,558.11 L712.3,547.84 L712.55,538.12 L712.8,528.92 L713.05,520.23 L713.3,512 L713.55,504.22 L713.8,496.86 L714.05,489.89 L714.3,483.3 L714.76,472.09 L715.22,461.97 L715.68,452.83 L716.14,444.58 L716.6,437.14 L717.06,430.41 L717.52,424.34 L717.98,418.87 L718.44,413.92 L718.9,409.45 L719.36,405.42 L719.82,401.78 L720.28,398.5 L720.74,395.53 L721.2,392.85 L721.66,390.43 L722.12,388.25 L722.58,386.28 L723.04,384.5 L723.5,382.9 L723.96,381.45 L724.42,380.14 L724.88,378.96 L725.34,377.89 L725.8,376.93 L726.26,376.06 L726.72,375.27 L727.18,374.57 L727.64,373.93 L728.1,373.35 L728.56,372.83 L729.02,372.36 L729.48,371.93 L729.95,371.55 L730.41,371.2 L730.87,370.89 L731.33,370.61 L731.79,370.35 L732.25,370.12 L732.57,381.91 L732.89,393.4 L733.21,404.61 L733.53,415.54 L733.85,426.2 L734.17,436.6 L734.49,446.74 L734.81,456.63 L735.13,466.28 L735.45,475.69 L735.77,484.87 L736.09,493.82 L736.41,502.55 L736.73,511.06 L737.05,519.36 L737.38,527.46 L737.7,535.36 L738.02,543.06 L738.34,550.58 L738.66,557.9 L738.66,557.9 L738.91,547.63 L739.16,537.91 L739.41,528.72 L739.66,520.02 L739.91,511.8 L740.16,504.02 L740.41,496.65 L740.66,489.69 L740.91,483.1 L741.37,471.89 L741.83,461.77 L742.29,452.64 L742.75,444.39 L743.21,436.94 L743.67,430.22 L744.13,424.15 L744.59,418.67 L745.05,413.73 L745.51,409.26 L745.97,405.23 L746.43,401.59 L746.89,398.31 L747.35,395.34 L747.81,392.66 L748.27,390.25 L748.73,388.06 L749.19,386.09 L749.65,384.31 L750.11,382.71 L750.57,381.26 L751.03,379.95 L751.49,378.77 L751.95,377.7 L752.41,376.74 L752.87,375.87 L753.33,375.09 L753.79,374.38 L754.26,373.74 L754.72,373.16 L755.18,372.64 L755.64,372.17 L756.1,371.74 L756.56,371.36 L757.02,371.01 L757.48,370.7 L757.94,370.42 L758.4,370.16 L758.86,369.93 L759.18,381.72 L759.5,393.21 L759.82,404.42 L760.14,415.35 L760.46,426.01 L760.78,436.41 L761.1,446.55 L761.42,456.44 L761.74,466.09 L762.06,475.5 L762.38,484.67 L762.7,493.62 L763.02,502.35 L763.35,510.87 L763.67,519.17 L763.99,527.27 L764.31,535.17 L764.63,542.87 L764.95,550.38 L765.27,557.71 L765.27,557.71 L765.52,547.44 L765.77,537.72 L766.02,528.53 L766.27,519.83 L766.52,511.61 L766.77,503.83 L767.02,496.47 L767.27,489.5 L767.52,482.92 L767.98,471.71 L768.44,461.59 L768.9,452.45 L769.36,444.21 L769.82,436.76 L770.28,430.04 L770.74,423.97 L771.2,418.49 L771.66,413.55 L772.12,409.08 L772.58,405.05 L773.04,401.41 L773.5,398.13 L773.96,395.16 L774.42,392.49 L774.88,390.07 L775.34,387.89 L775.8,385.92 L776.26,384.14 L776.72,382.53 L777.18,381.08 L777.64,379.77 L778.1,378.59 L778.56,377.53 L779.03,376.56 L779.49,375.7 L779.95,374.91 L780.41,374.2 L780.87,373.56 L781.33,372.99 L781.79,372.46 L782.25,371.99 L782.71,371.57 L783.17,371.19 L783.63,370.84 L784.09,370.53 L784.55,370.24 L785.01,369.99 L785.47,369.76 L785.79,381.54 L786.11,393.03 L786.43,404.24 L786.75,415.17 L787.07,425.83 L787.39,436.23 L787.71,446.37 L788.03,456.27 L788.35,465.91 L788.67,475.32 L788.99,484.5 L789.32,493.45 L789.64,502.18 L789.96,510.69 L790.28,518.99 L790.6,527.09 L790.92,534.99 L791.24,542.69 L791.56,550.2 L791.88,557.53 L791.88,557.53 L792.13,547.26 L792.38,537.54 L792.63,528.35 L792.88,519.66 L793.13,511.43 L793.38,503.65 L793.63,496.29 L793.88,489.33 L794.13,482.74 L794.59,471.54 L795.05,461.42 L795.51,452.28 L795.97,444.04 L796.43,436.59 L796.89,429.87 L797.35,423.8 L797.81,418.33 L798.27,413.38 L798.73,408.92 L799.19,404.89 L799.65,401.25 L800.11,397.96 L800.57,395 L801.03,392.32 L801.49,389.9 L801.95,387.72 L802.41,385.75 L802.87,383.97 L803.34,382.37 L803.8,380.92 L804.26,379.61 L804.72,378.43 L805.18,377.36 L805.64,376.4 L806.1,375.53 L806.56,374.75 L807.02,374.04 L807.48,373.4 L807.94,372.82 L808.4,372.3 L808.86,371.83 L809.32,371.41 L809.78,371.02 L810.24,370.68 L810.7,370.36 L811.16,370.08 L811.62,369.83 L812.08,369.6 L812.4,381.38 L812.72,392.87 L813.04,404.08 L813.36,415.01 L813.68,425.67 L814,436.07 L814.32,446.21 L814.64,456.1 L814.97,465.75 L815.29,475.16 L815.61,484.33 L815.93,493.28 L816.25,502.01 L816.57,510.52 L816.89,518.83 L817.21,526.92 L817.53,534.82 L817.85,542.52 L818.17,550.04 L818.49,557.36 L818.49,557.36 L818.74,547.09 L818.99,537.38 L819.24,528.19 L819.49,519.49 L819.74,511.27 L819.99,503.49 L820.24,496.13 L820.49,489.17 L820.74,482.58 L821.2,471.38 L821.66,461.26 L822.12,452.13 L822.58,443.88 L823.04,436.44 L823.5,429.71 L823.96,423.65 L824.42,418.17 L824.88,413.23 L825.34,408.76 L825.8,404.73 L826.26,401.09 L826.72,397.81 L827.18,394.84 L827.65,392.17 L828.11,389.75 L828.57,387.57 L829.03,385.6 L829.49,383.82 L829.95,382.22 L830.41,380.77 L830.87,379.46 L831.33,378.28 L831.79,377.21 L832.25,376.25 L832.71,375.38 L833.17,374.6 L833.63,373.89 L834.09,373.25 L834.55,372.67 L835.01,372.15 L835.47,371.68 L835.93,371.25 L836.39,370.87 L836.85,370.52 L837.31,370.21 L837.77,369.93 L838.23,369.68 L838.69,369.45 L839.01,381.23 L839.33,392.72 L839.65,403.93 L839.97,414.86 L840.29,425.52 L840.61,435.92 L840.94,446.06 L841.26,455.95 L841.58,465.59 L841.9,475 L842.22,484.18 L842.54,493.13 L842.86,501.85 L843.18,510.37 L843.5,518.67 L843.82,526.77 L844.14,534.67 L844.46,542.37 L844.78,549.88 L845.1,557.21 L845.1,557.21 L845.35,546.94 L845.6,537.22 L845.85,528.03 L846.1,519.34 L846.35,511.12 L846.6,503.34 L846.85,495.98 L847.1,489.02 L847.35,482.43 L847.81,471.23 L848.27,461.11 L848.73,451.98 L849.19,443.73 L849.65,436.29 L850.11,429.57 L850.57,423.5 L851.03,418.03 L851.49,413.08 L851.95,408.62 L852.42,404.59 L852.88,400.95 L853.34,397.67 L853.8,394.7 L854.26,392.02 L854.72,389.61 L855.18,387.43 L855.64,385.46 L856.1,383.68 L856.56,382.07 L857.02,380.63 L857.48,379.32 L857.94,378.14 L858.4,377.07 L858.86,376.11 L859.32,375.24 L859.78,374.45 L860.24,373.75 L860.7,373.11 L861.16,372.53 L861.62,372.01 L862.08,371.54 L862.54,371.11 L863,370.73 L863.46,370.38 L863.92,370.07 L864.38,369.79 L864.84,369.53 L865.3,369.3 L865.62,381.09 L865.94,392.58 L866.26,403.78 L866.58,414.71 L866.91,425.38 L867.23,435.77 L867.55,445.91 L867.87,455.8 L868.19,465.45 L868.51,474.86 L868.83,484.03 L869.15,492.98 L869.47,501.71 L869.79,510.22 L870.11,518.53 L870.43,526.62 L870.75,534.52 L871.07,542.22 L871.39,549.74 L871.71,557.06 L871.71,557.06 L871.96,546.79 L872.21,537.08 L872.46,527.89 L872.71,519.2 L872.96,510.97 L873.21,503.2 L873.46,495.84 L873.71,488.88 L873.96,482.29 L874.42,471.09 L874.88,460.97 L875.34,451.84 L875.8,443.6 L876.26,436.15 L876.73,429.43 L877.19,423.37 L877.65,417.89 L878.11,412.95 L878.57,408.48 L879.03,404.45 L879.49,400.82 L879.95,397.53 L880.41,394.57 L880.87,391.89 L881.33,389.48 L881.79,387.29 L882.25,385.32 L882.71,383.55 L883.17,381.94 L883.63,380.49 L884.09,379.18 L884.55,378 L885.01,376.94 L885.47,375.98 L885.93,375.11 L886.39,374.32 L886.85,373.61 L887.31,372.97 L887.77,372.4 L888.23,371.88 L888.69,371.41 L889.15,370.98 L889.61,370.6 L890.07,370.25 L890.53,369.94 L890.99,369.66 L891.45,369.4 L891.91,369.17 L892.23,380.95 L892.55,392.45 L892.88,403.65 L893.2,414.58 L893.52,425.24 L893.84,435.64 L894.16,445.78 L894.48,455.67 L894.8,465.32 L895.12,474.72 L895.44,483.9 L895.76,492.85 L896.08,501.58 L896.4,510.09 L896.72,518.39 L897.04,526.49 L897.36,534.39 L897.68,542.09 L898,549.6 L898.32,556.93 L898.32,556.93 L898.57,546.66 L898.82,536.95 L899.07,527.76 L899.32,519.07 L899.57,510.84 L899.82,503.07 L900.07,495.71 L900.32,488.75 L900.57,482.16 L901.04,470.96 L901.5,460.84 L901.96,451.71 L902.42,443.47 L902.88,436.03 L903.34,429.31 L903.8,423.24 L904.26,417.76 L904.72,412.82 L905.18,408.36 L905.64,404.33 L906.1,400.69 L906.56,397.41 L907.02,394.44 L907.48,391.77 L907.94,389.35 L908.4,387.17 L908.86,385.2 L909.32,383.42 L909.78,381.82 L910.24,380.37 L910.7,379.06 L911.16,377.88 L911.62,376.82 L912.08,375.85 L912.54,374.98 L913,374.2 L913.46,373.49 L913.92,372.85 L914.38,372.28 L914.84,371.75 L915.3,371.28 L915.76,370.86 L916.22,370.48 L916.68,370.13 L917.14,369.82 L917.6,369.54 L918.06,369.28 L918.52,369.05 L918.85,380.83 L919.17,392.32 L919.49,403.53 L919.81,414.46 L920.13,425.12 L920.45,435.52 L920.77,445.66 L921.09,455.55 L921.41,465.19 L921.73,474.6 L922.05,483.77 L922.37,492.72 L922.69,501.45 L923.01,509.96 L923.33,518.27 L923.65,526.36 L923.97,534.26 L924.29,541.96 L924.62,549.47 L924.94,556.8" fill="none" stroke="#000" stroke-width="2.8" stroke-linejoin="round" clip-path="url(#cb)"/>
<path d="M109.6,17.0H958.8V293.8H109.6" fill="none" stroke="#000" stroke-width="2.2"/>
<path d="M109.6,293.8H127.19999999999999" stroke="#f00000" stroke-width="2.3"/>
<path d="M109.6,17.0V294.90000000000003" stroke="#f00000" stroke-width="2.2"/>
<path d="M109.6,293.8h11M109.6,266.02h5.5M109.6,249.78h5.5M109.6,238.25h5.5M109.6,229.31h5.5M109.6,222h5.5M109.6,215.83h5.5M109.6,210.47h5.5M109.6,205.76h5.5M109.6,201.53h11M109.6,173.76h5.5M109.6,157.51h5.5M109.6,145.98h5.5M109.6,137.04h5.5M109.6,129.74h5.5M109.6,123.56h5.5M109.6,118.21h5.5M109.6,113.49h5.5M109.6,109.27h11M109.6,81.49h5.5M109.6,65.24h5.5M109.6,53.72h5.5M109.6,44.78h5.5M109.6,37.47h5.5M109.6,31.29h5.5M109.6,25.94h5.5M109.6,21.22h5.5" stroke="#f00000" stroke-width="2"/>
<path d="M108.5,17.0H123.6" stroke="#000" stroke-width="2.2"/>
<path d="M209.76,293.8v-5.5M292.92,293.8v-11M376.08,293.8v-5.5M459.24,293.8v-11M542.4,293.8v-5.5M625.56,293.8v-11M708.72,293.8v-5.5M791.88,293.8v-11M875.04,293.8v-5.5" stroke="#000" stroke-width="2"/>
<path d="M958.8,333.8H109.6V610.0H958.8" fill="none" stroke="#000" stroke-width="2.2"/>
<path d="M958.8,332.7V611.1" stroke="#0000f0" stroke-width="2.2"/>
<path d="M109.6,563.97h5.5M109.6,517.93h5.5M109.6,471.9h5.5M109.6,425.87h5.5M109.6,379.83h5.5M109.6,333.8h5.5M109.6,586.98h11M109.6,540.95h11M109.6,494.92h11M109.6,448.88h11M109.6,402.85h11M109.6,356.82h11" stroke="#000" stroke-width="2"/>
<path d="M209.76,610.0v-5.5M292.92,610.0v-11M376.08,610.0v-5.5M459.24,610.0v-11M542.4,610.0v-5.5M625.56,610.0v-11M708.72,610.0v-5.5M791.88,610.0v-11M875.04,610.0v-5.5" stroke="#000" stroke-width="2"/>
<path d="M958.8,610h-11M958.8,588.75h-5.5M958.8,567.51h-11M958.8,546.26h-5.5M958.8,525.02h-11M958.8,503.77h-5.5M958.8,482.52h-11M958.8,461.28h-5.5M958.8,440.03h-11M958.8,418.78h-5.5M958.8,397.54h-11M958.8,376.29h-5.5M958.8,355.05h-11M958.8,333.8h-5.5" stroke="#0000f0" stroke-width="2"/>
<path d="M126.6,610 L128.6,609.91 L130.6,609.82 L132.59,609.6 L134.59,609.35 L136.59,608.98 L138.59,608.58 L140.58,608.07 L142.58,607.52 L144.58,606.79 L146.58,605.93 L148.57,604.98 L150.57,604.01 L152.57,603.09 L154.57,602.19 L156.56,601.45 L158.56,600.75 L160.56,600.1 L162.56,599.47 L164.55,598.69 L166.55,597.85 L168.55,596.99 L170.55,596.12 L172.54,595.23 L174.54,594.37 L176.54,593.71 L178.54,593.24 L180.53,592.92 L182.53,592.49 L184.53,591.89 L186.53,591.19 L188.52,590.43 L190.52,589.62 L192.52,588.78 L194.52,587.92 L196.51,587.05 L198.51,586.17 L200.51,585.3 L202.51,584.59 L204.5,584.08 L206.5,583.76 L208.5,583.39 L210.5,582.84 L212.49,582.16 L214.49,581.42 L216.49,580.62 L218.49,579.79 L220.48,578.93 L222.48,578.07 L224.48,577.19 L226.48,576.31 L228.47,575.54 L230.47,574.97 L232.47,574.6 L234.47,574.29 L236.46,573.79 L238.46,573.15 L240.46,572.42 L242.46,571.64 L244.45,570.82 L246.45,569.97 L248.45,569.11 L250.45,568.24 L252.44,567.37 L254.44,566.53 L256.44,565.91 L258.44,565.48 L260.43,565.19 L262.43,564.75 L264.43,564.15 L266.43,563.45 L268.42,562.68 L270.42,561.87 L272.42,561.03 L274.42,560.18 L276.41,559.31 L278.41,558.44 L280.41,557.57 L282.41,556.88 L284.4,556.4 L286.4,556.09 L288.4,555.71 L290.4,555.16 L292.39,554.49 L294.39,553.74 L296.39,552.94 L298.39,552.11 L300.38,551.26 L302.38,550.4 L304.38,549.53 L306.38,548.66 L308.37,547.89 L310.37,547.35 L312.37,546.99 L314.37,546.68 L316.36,546.17 L318.36,545.53 L320.36,544.81 L322.36,544.03 L324.35,543.21 L326.35,542.37 L328.35,541.51 L330.35,540.65 L332.34,539.77 L334.34,538.95 L336.34,538.34 L338.34,537.92 L340.33,537.64 L342.33,537.19 L344.33,536.59 L346.33,535.89 L348.32,535.13 L350.32,534.32 L352.32,533.49 L354.32,532.64 L356.31,531.78 L358.31,530.91 L360.31,530.05 L362.31,529.37 L364.3,528.9 L366.3,528.59 L368.3,528.22 L370.3,527.66 L372.29,526.99 L374.29,526.24 L376.29,525.45 L378.29,524.62 L380.28,523.78 L382.28,522.92 L384.28,522.06 L386.28,521.19 L388.27,520.44 L390.27,519.9 L392.27,519.56 L394.27,519.24 L396.26,518.73 L398.26,518.1 L400.26,517.37 L402.26,516.59 L404.25,515.78 L406.25,514.94 L408.25,514.09 L410.25,513.23 L412.24,512.37 L414.24,511.55 L416.24,510.95 L418.24,510.55 L420.23,510.26 L422.23,509.81 L424.23,509.21 L426.23,508.51 L428.22,507.75 L430.22,506.95 L432.22,506.12 L434.22,505.27 L436.21,504.42 L438.21,503.56 L440.21,502.71 L442.21,502.04 L444.2,501.57 L446.2,501.28 L448.2,500.9 L450.2,500.34 L452.19,499.67 L454.19,498.92 L456.19,498.13 L458.19,497.31 L460.18,496.47 L462.18,495.62 L464.18,494.77 L466.18,493.9 L468.17,493.16 L470.17,492.64 L472.17,492.3 L474.17,491.98 L476.16,491.47 L478.16,490.83 L480.16,490.11 L482.16,489.33 L484.15,488.52 L486.15,487.69 L488.15,486.85 L490.15,485.99 L492.14,485.13 L494.14,484.33 L496.14,483.74 L498.14,483.35 L500.13,483.06 L502.13,482.61 L504.13,482.01 L506.13,481.31 L508.12,480.55 L510.12,479.75 L512.12,478.93 L514.12,478.09 L516.11,477.24 L518.11,476.38 L520.11,475.54 L522.11,474.88 L524.1,474.43 L526.1,474.14 L528.1,473.75 L530.1,473.19 L532.09,472.52 L534.09,471.78 L536.09,471 L538.09,470.18 L540.08,469.35 L542.08,468.5 L544.08,467.65 L546.08,466.79 L548.07,466.06 L550.07,465.55 L552.07,465.22 L554.07,464.89 L556.06,464.38 L558.06,463.75 L560.06,463.03 L562.06,462.25 L564.05,461.45 L566.05,460.62 L568.05,459.78 L570.05,458.93 L572.04,458.08 L574.04,457.29 L576.04,456.71 L578.04,456.32 L580.03,456.04 L582.03,455.58 L584.03,454.98 L586.03,454.28 L588.02,453.53 L590.02,452.73 L592.02,451.91 L594.02,451.08 L596.01,450.23 L598.01,449.38 L600.01,448.55 L602.01,447.9 L604,447.46 L606,447.17 L608,446.78 L610,446.22 L611.99,445.55 L613.99,444.82 L615.99,444.03 L617.99,443.22 L619.98,442.39 L621.98,441.55 L623.98,440.71 L625.98,439.86 L627.97,439.14 L629.97,438.64 L631.97,438.31 L633.97,437.99 L635.96,437.47 L637.96,436.84 L639.96,436.12 L641.96,435.35 L643.95,434.55 L645.95,433.73 L647.95,432.89 L649.95,432.05 L651.94,431.2 L653.94,430.42 L655.94,429.85 L657.94,429.47 L659.93,429.19 L661.93,428.73 L663.93,428.13 L665.93,427.44 L667.92,426.68 L669.92,425.89 L671.92,425.08 L673.92,424.25 L675.91,423.41 L677.91,422.56 L679.91,421.74 L681.91,421.1 L683.9,420.67 L685.9,420.39 L687.9,419.99 L689.9,419.43 L691.89,418.76 L693.89,418.03 L695.89,417.25 L697.89,416.44 L699.88,415.62 L701.88,414.78 L703.88,413.94 L705.88,413.1 L707.87,412.4 L709.87,411.9 L711.87,411.58 L713.87,411.26 L715.86,410.74 L717.86,410.11 L719.86,409.39 L721.86,408.63 L723.85,407.83 L725.85,407.01 L727.85,406.18 L729.85,405.34 L731.84,404.5 L733.84,403.73 L735.84,403.17 L737.84,402.8 L739.83,402.52 L741.83,402.06 L743.83,401.46 L745.83,400.76 L747.82,400.02 L749.82,399.23 L751.82,398.42 L753.82,397.59 L755.81,396.76 L757.81,395.92 L759.81,395.1 L761.81,394.48 L763.8,394.05 L765.8,393.78 L767.8,393.38 L769.8,392.82 L771.79,392.15 L773.79,391.42 L775.79,390.64 L777.79,389.84 L779.78,389.02 L781.78,388.19 L783.78,387.35 L785.78,386.52 L787.77,385.83 L789.77,385.34 L791.77,385.03 L793.77,384.7 L795.76,384.19 L797.76,383.55 L799.76,382.84 L801.76,382.08 L803.75,381.28 L805.75,380.47 L807.75,379.64 L809.75,378.81 L811.74,377.97 L813.74,377.22 L815.74,376.67 L817.74,376.31 L819.73,376.02 L821.73,375.56 L823.73,374.96 L825.73,374.27 L827.72,373.52 L829.72,372.74 L831.72,371.94 L833.72,371.12 L835.71,370.29 L837.71,369.45 L839.71,368.64 L841.71,368.03 L843.7,367.61 L845.7,367.34 L847.7,366.94 L849.7,366.38 L851.69,365.72 L853.69,364.99 L855.69,364.22 L857.69,363.42 L859.68,362.6 L861.68,361.78 L863.68,360.94 L865.68,360.11 L867.67,359.43 L869.67,358.96 L871.67,358.66 L873.67,358.32 L875.66,357.81 L877.66,357.17 L879.66,356.46 L881.66,355.71 L883.65,354.92 L885.65,354.11 L887.65,353.29 L889.65,352.46 L891.64,351.62 L893.64,350.88 L895.64,350.34 L897.64,349.99 L899.63,349.71 L901.63,349.24 L903.63,348.64 L905.63,347.95 L907.62,347.21 L909.62,346.43 L911.62,345.63 L913.62,344.81 L915.61,343.99 L917.61,343.16 L919.61,342.36 L921.61,341.76 L923.6,341.35 L924.94,341.17" fill="none" stroke="#0000f0" stroke-width="4.4" stroke-linejoin="round" stroke-linecap="round" clip-path="url(#cb2)"/>
<path d="M169.3,376.9 L140,361" stroke="#000" stroke-width="3.2"/>
<path d="M125.1,352.5 L149.4,358.6 L142.7,369.5 Z" fill="#000" stroke="#000" stroke-width="1" stroke-linejoin="round"/>
<path d="M911.8,351.1 L935,375" stroke="#0000f0" stroke-width="3.8" stroke-linecap="round"/>
<path d="M947.7,389.9 L926.7,376.7 L937.1,368.1 Z" fill="#0000f0" stroke="#0000f0" stroke-width="1" stroke-linejoin="round"/>
<text transform="translate(97.2,26.3) scale(1.0,1.05)" font-size="31" font-weight="bold" fill="#f00000" text-anchor="end">1000</text>
<text transform="translate(97.2,119) scale(1.0,1.05)" font-size="31" font-weight="bold" fill="#f00000" text-anchor="end">100</text>
<text transform="translate(97.2,210.9) scale(1.0,1.05)" font-size="31" font-weight="bold" fill="#f00000" text-anchor="end">10</text>
<text transform="translate(97.2,303.4) scale(1.0,1.05)" font-size="31" font-weight="bold" fill="#f00000" text-anchor="end">1</text>
<text transform="translate(97.2,366.42) scale(1.0,1.05)" font-size="31" font-weight="bold" fill="#000" text-anchor="end">0.30</text>
<text transform="translate(97.2,412.45) scale(1.0,1.05)" font-size="31" font-weight="bold" fill="#000" text-anchor="end">0.25</text>
<text transform="translate(97.2,458.48) scale(1.0,1.05)" font-size="31" font-weight="bold" fill="#000" text-anchor="end">0.20</text>
<text transform="translate(97.2,504.52) scale(1.0,1.05)" font-size="31" font-weight="bold" fill="#000" text-anchor="end">0.15</text>
<text transform="translate(97.2,550.55) scale(1.0,1.05)" font-size="31" font-weight="bold" fill="#000" text-anchor="end">0.10</text>
<text transform="translate(97.2,596.58) scale(1.0,1.05)" font-size="31" font-weight="bold" fill="#000" text-anchor="end">0.05</text>
<text transform="translate(126.6,646.8) scale(1.0,1.05)" font-size="31" font-weight="bold" fill="#000" text-anchor="middle">0</text>
<text transform="translate(292.92,646.8) scale(1.0,1.05)" font-size="31" font-weight="bold" fill="#000" text-anchor="middle">100</text>
<text transform="translate(459.24,646.8) scale(1.0,1.05)" font-size="31" font-weight="bold" fill="#000" text-anchor="middle">200</text>
<text transform="translate(625.56,646.8) scale(1.0,1.05)" font-size="31" font-weight="bold" fill="#000" text-anchor="middle">300</text>
<text transform="translate(791.88,646.8) scale(1.0,1.05)" font-size="31" font-weight="bold" fill="#000" text-anchor="middle">400</text>
<text transform="translate(958.2,646.8) scale(1.0,1.05)" font-size="31" font-weight="bold" fill="#000" text-anchor="middle">500</text>
<text transform="translate(971.5,617) scale(1.0,1.08)" font-size="21.5" font-weight="normal" fill="#0000f0" text-anchor="start">0</text>
<text transform="translate(971.5,574.51) scale(1.0,1.08)" font-size="21.5" font-weight="normal" fill="#0000f0" text-anchor="start">1</text>
<text transform="translate(971.5,532.02) scale(1.0,1.08)" font-size="21.5" font-weight="normal" fill="#0000f0" text-anchor="start">2</text>
<text transform="translate(971.5,489.52) scale(1.0,1.08)" font-size="21.5" font-weight="normal" fill="#0000f0" text-anchor="start">3</text>
<text transform="translate(971.5,447.03) scale(1.0,1.08)" font-size="21.5" font-weight="normal" fill="#0000f0" text-anchor="start">4</text>
<text transform="translate(971.5,404.54) scale(1.0,1.08)" font-size="21.5" font-weight="normal" fill="#0000f0" text-anchor="start">5</text>
<text transform="translate(971.5,362.05) scale(1.0,1.08)" font-size="21.5" font-weight="normal" fill="#0000f0" text-anchor="start">6</text>
<text transform="translate(534.5,694) scale(1.0,1.03)" font-size="30.6" font-weight="bold" fill="#000" text-anchor="middle">Time (day)</text>
<text transform="translate(523,56) scale(1.0,0.96)" font-size="39.5" font-weight="bold" fill="#000" text-anchor="middle">(a)</text>
<text transform="translate(528.2,605.2) scale(1.0,0.96)" font-size="39.5" font-weight="bold" fill="#000" text-anchor="middle">(b)</text>
<text transform="translate(21.8,155.9) rotate(-90) scale(1.0,1.03)" font-size="30.6" font-weight="bold" fill="#f00000" text-anchor="middle">HTO in Port cell (DAC)</text>
<text transform="translate(22.4,471.2) rotate(-90) scale(1.0,1.03)" font-size="30.3" font-weight="bold" fill="#000" text-anchor="middle">HTO in Paint (mg)</text>
<text transform="translate(1016.9,471.9) rotate(-90) scale(1.0,1.03)" font-size="30.6" font-weight="bold" fill="#0000f0" text-anchor="middle">HTO in Concrete (mg)</text>
</svg></body></html>
